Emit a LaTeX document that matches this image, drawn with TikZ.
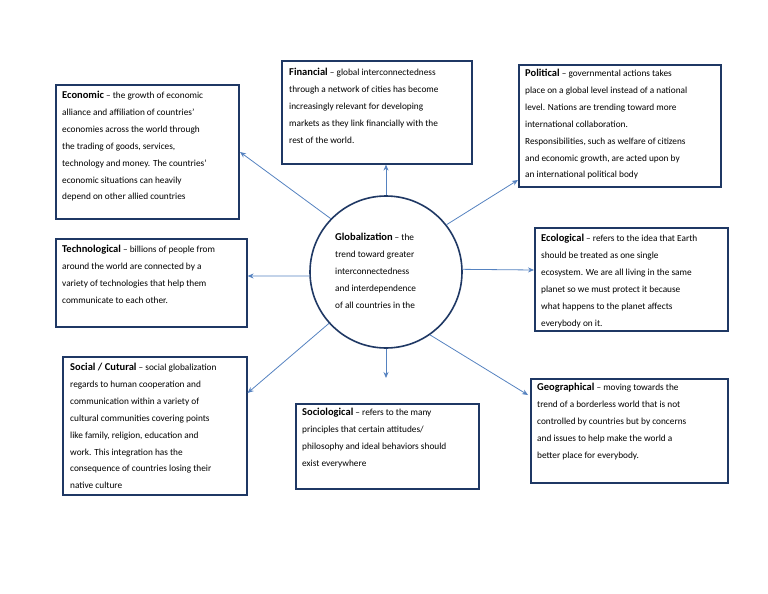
\documentclass[tikz,border=0pt]{standalone}
\usepackage{fontspec}
\setmainfont{Carlito}
\usetikzlibrary{arrows.meta}
\begin{document}
\begin{tikzpicture}[x=1pt,y=-1pt,
 box/.style={draw=boxc,line width=1.6pt,rectangle,inner sep=0pt,anchor=north west},
 txt/.style={anchor=north west,align=left,inner sep=0pt,font=\fontsize{9.3}{16.9}\selectfont},
 arr/.style={draw=arrc,line width=0.8pt,-{Stealth[length=6pt,width=5pt]}}]
\definecolor{boxc}{HTML}{1F3864}
\definecolor{arrc}{HTML}{5582C0}
\newcommand{\ttl}[1]{{\fontsize{10.5}{12}\selectfont\bfseries #1}}
\useasboundingbox (0,0) rectangle (768,594);
\node[box,minimum width=183pt,minimum height=134pt] (econ) at (55,84) {};
\node[txt] (econt) at (62,91) {\ttl{Economic} -- the growth of economic\\alliance and affiliation of countries'\\economies across the world through\\the trading of goods, services,\\technology and money. The countries'\\economic situations can heavily\\depend on other allied countries};
\node[box,minimum width=190pt,minimum height=103pt] (fin) at (281,60) {};
\node[txt] (fint) at (289,68) {\ttl{Financial} -- global interconnectedness\\through a network of cities has become\\increasingly relevant for developing\\markets as they link financially with the\\rest of the world.};
\node[box,minimum width=202pt,minimum height=122pt] (pol) at (518,64) {};
\node[txt] (polt) at (525,69) {\ttl{Political} -- governmental actions takes\\place on a global level instead of a national\\level. Nations are trending toward more\\international collaboration.\\Responsibilities, such as welfare of citizens\\and economic growth, are acted upon by\\an international political body};
\node[box,minimum width=191pt,minimum height=88pt] (tech) at (55,238) {};
\node[txt] (techt) at (62,245) {\ttl{Technological} -- billions of people from\\around the world are connected by a\\variety of technologies that help them\\communicate to each other.};
\node[box,minimum width=193pt,minimum height=103pt] (eco) at (534,227) {};
\node[txt] (ecot) at (541,234) {\ttl{Ecological} -- refers to the idea that Earth\\should be treated as one single\\ecosystem. We are all living in the same\\planet so we must protect it because\\what happens to the planet affects\\everybody on it.};
\node[box,minimum width=184pt,minimum height=138pt] (soc) at (62,356) {};
\node[txt] (soct) at (70,363) {\ttl{Social / Cutural} -- social globalization\\regards to human cooperation and\\communication within a variety of\\cultural communities covering points\\like family, religion, education and\\work. This integration has the\\consequence of countries losing their\\native culture};
\node[box,minimum width=183pt,minimum height=85pt] (sol) at (295,403) {};
\node[txt] (solt) at (302,408) {\ttl{Sociological} -- refers to the many\\principles that certain attitudes/\\philosophy and ideal behaviors should\\exist everywhere};
\node[box,minimum width=197pt,minimum height=104pt] (geo) at (530,378) {};
\node[txt] (geot) at (537,383) {\ttl{Geographical} -- moving towards the\\trend of a borderless world that is not\\controlled by countries but by concerns\\and issues to help make the world a\\better place for everybody.};
\node[draw=boxc,line width=1.6pt,circle,minimum size=152pt,inner sep=0pt] (c) at (386,272) {};
\node[txt] (ct) at (335,233) {\ttl{Globalization} -- the\\trend toward greater\\interconnectedness\\and interdependence\\of all countries in the};
\coordinate (aS) at (386,378);
\draw[arr] (c.90) -- (fin.south -| c);
\draw[arr] (c.136) -- (240,152);
\draw[arr] (c.38) -- (pol.south west |- 0,180);
\draw[arr] (c.183) -- (tech.east |- 0,276);
\draw[arr] (c.2) -- (eco.west |- 0,270);
\draw[arr] (c.222) -- (soc.east |- 0,393);
\draw[arr] (c.270) -- (aS);
\draw[arr] (c.-55) -- (528,395);
\end{tikzpicture}
\end{document}
